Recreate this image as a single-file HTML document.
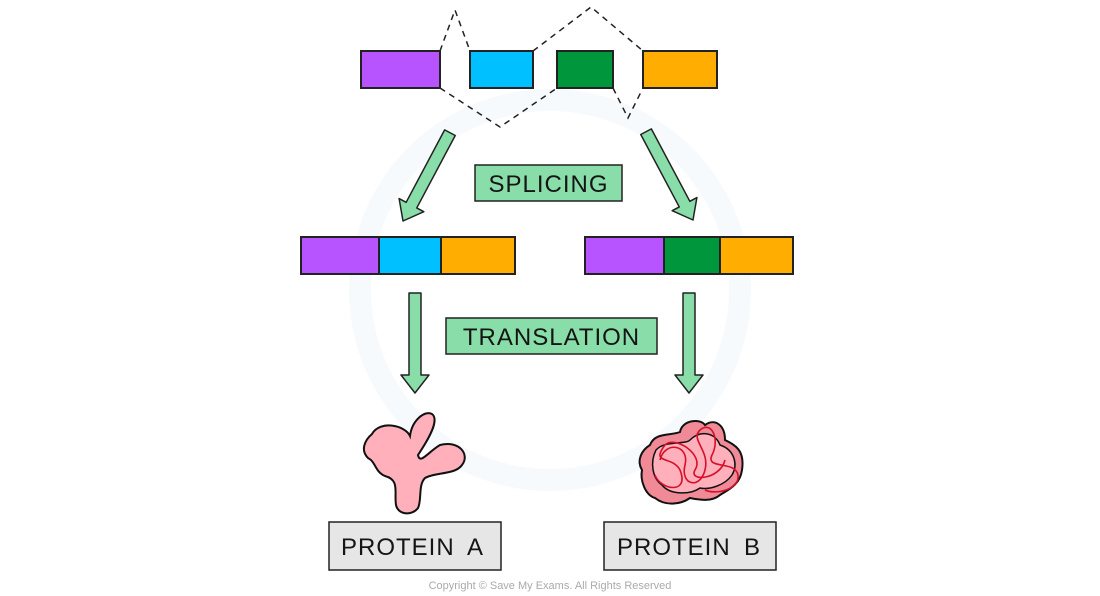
<!DOCTYPE html>
<html><head><style>html,body{margin:0;padding:0;background:#fff}svg{display:block}</style></head>
<body>
<svg width="1100" height="596" viewBox="0 0 1100 596" xmlns="http://www.w3.org/2000/svg" font-family="Liberation Sans, sans-serif">
<defs>
<path id="ar" d="M-6,-100 L6,-100 L6,-18 L14,-18 L0,0 L-14,-18 L-6,-18 Z" fill="#88dda8" stroke="#222" stroke-width="1.5" stroke-linejoin="round"/>
</defs>
<!-- watermark -->
<circle cx="550" cy="290" r="190" fill="none" stroke="#f7fafd" stroke-width="22"/>
<!-- top row -->
<g stroke="#222" stroke-width="2">
<rect x="361" y="51" width="79" height="37" fill="#b854ff"/>
<rect x="470" y="51" width="63" height="37" fill="#00c0ff"/>
<rect x="557" y="51" width="56" height="37" fill="#00963c"/>
<rect x="643" y="51" width="74" height="37" fill="#ffad00"/>
</g>
<g fill="none" stroke="#222" stroke-width="1.5" stroke-dasharray="6,5">
<polyline points="440,51 455,10 470,51"/>
<polyline points="533,51 591,7 643,51"/>
<polyline points="440,88 500,127 557,88"/>
<polyline points="613,88 628,118 643,88"/>
</g>
<!-- arrows -->
<use href="#ar" transform="translate(403,221) rotate(28)"/>
<use href="#ar" transform="translate(693,220) rotate(-28)"/>
<use href="#ar" transform="translate(415,393)"/>
<use href="#ar" transform="translate(689,393)"/>
<!-- labels -->
<rect x="475" y="165" width="147" height="36" fill="#88dda8" stroke="#222" stroke-width="1.5"/>
<text x="548.5" y="192" font-size="24" text-anchor="middle" fill="#151515" letter-spacing="1">SPLICING</text>
<rect x="446" y="318" width="211" height="36" fill="#88dda8" stroke="#222" stroke-width="1.5"/>
<text x="551.5" y="345" font-size="24" text-anchor="middle" fill="#151515" letter-spacing="1">TRANSLATION</text>
<!-- middle rows -->
<g stroke="#222" stroke-width="2">
<rect x="301" y="237" width="78" height="37" fill="#b854ff"/>
<rect x="379" y="237" width="62" height="37" fill="#00c0ff"/>
<rect x="441" y="237" width="74" height="37" fill="#ffad00"/>
<rect x="585" y="237" width="79" height="37" fill="#b854ff"/>
<rect x="664" y="237" width="56" height="37" fill="#00963c"/>
<rect x="720" y="237" width="73" height="37" fill="#ffad00"/>
</g>
<!-- protein A -->
<path d="M372,434 C380,420 405,425 410,436 C412,420 425,410 432,414 C440,420 428,440 418,455 C420,465 428,452 440,445 C460,440 470,455 462,465 C455,475 435,472 425,478 C418,485 422,500 418,508 C412,516 398,515 396,505 C394,492 400,480 385,476 C375,472 376,462 368,458 C360,450 365,440 372,434 Z" fill="#ffb0bb" stroke="#111" stroke-width="2"/>
<!-- protein B -->
<path d="M650,445 C655,432 670,436 680,432 C682,420 700,418 705,425 C715,418 725,425 725,440 C735,445 745,450 742,470 C740,485 728,490 720,495 C712,502 700,500 690,498 C680,505 665,506 655,498 C645,495 640,480 642,470 C636,460 642,450 650,445 Z" fill="#f08a96" stroke="#111" stroke-width="2"/>
<path d="M656,450 C665,440 685,445 690,440 C700,430 715,432 720,445 C735,450 738,465 732,475 C725,485 710,490 700,488 C690,495 670,495 662,485 C652,478 650,462 656,450 Z" fill="#ffb0bb" stroke="#111" stroke-width="1.5"/>
<g fill="none" stroke="#d4102a" stroke-width="1.6">
<path d="M660,460 C665,440 690,445 685,465 C680,485 700,490 705,470 C710,450 690,440 700,430 C712,420 720,440 712,455 C705,470 735,460 738,475 C740,490 715,495 705,490"/>
<path d="M655,475 C660,490 690,495 680,470 C672,455 650,465 665,445 C675,435 705,455 695,470 C688,482 720,480 725,460"/>
</g>
<!-- protein boxes -->
<rect x="329" y="522" width="172" height="48" fill="#e6e6e6" stroke="#222" stroke-width="1.5"/>
<text x="341" y="555" font-size="24" fill="#151515" letter-spacing="1">PROTEIN</text>
<text x="467" y="555" font-size="24" fill="#151515">A</text>
<rect x="604" y="522" width="172" height="48" fill="#e6e6e6" stroke="#222" stroke-width="1.5"/>
<text x="617" y="555" font-size="24" fill="#151515" letter-spacing="1">PROTEIN</text>
<text x="744" y="555" font-size="24" fill="#151515">B</text>
<text x="550" y="589" font-size="11" text-anchor="middle" fill="#aaa">Copyright © Save My Exams. All Rights Reserved</text>
</svg>
</body></html>
